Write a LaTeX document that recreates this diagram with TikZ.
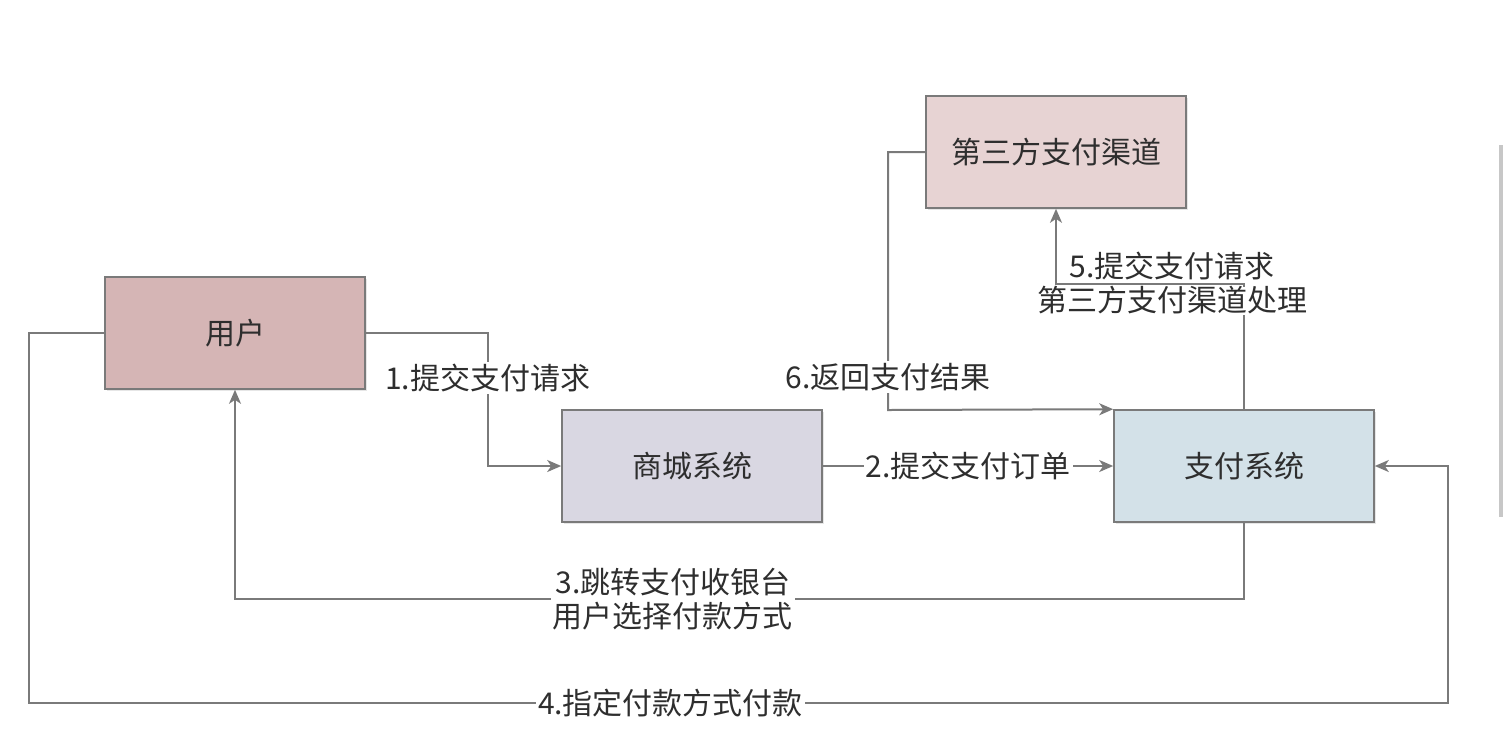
\documentclass[tikz,border=0pt]{standalone}
\usepackage{fontspec}
\usepackage{xcolor}
\usepackage{tikz}
\usetikzlibrary{positioning,arrows.meta,shadows}
\newfontfamily\cjk{Noto Sans CJK SC}

\definecolor{userfill}{HTML}{D5B5B5}
\definecolor{mallfill}{HTML}{D9D7E2}
\definecolor{payfill}{HTML}{D3E1E8}
\definecolor{thirdfill}{HTML}{E7D3D3}
\definecolor{linegray}{HTML}{7A7A7A}
\definecolor{textgray}{HTML}{2E2E2E}

\begin{document}
\begin{tikzpicture}[
		x=0.5pt, y=-0.5pt,
		sysnode/.style={rectangle, draw=linegray, line width=0.8pt, minimum width=130pt, minimum height=56pt,
			font=\cjk\fontsize{15}{17}\selectfont, text=textgray,
			drop shadow={shadow xshift=1pt, shadow yshift=-1pt, opacity=0.2}},
		flow/.style={draw=linegray, line width=1pt, -{Stealth[length=7pt,width=6pt,inset=2pt]}},
		flowlabel/.style={fill=white, inner sep=1pt, text=textgray, align=center,
			font=\cjk\fontsize{15}{17}\selectfont},
		linelabel/.style={fill=white, inner xsep=1pt, inner ysep=0pt, text height=12pt, text depth=2pt,
			text=textgray, font=\cjk\fontsize{15}{17}\selectfont},
	]

		\useasboundingbox (0,0) rectangle (1512,752);

		% nodes
		\node[sysnode, fill=userfill]	(user) 	at (235,333) 	{用户};
		\node[sysnode, fill=mallfill]	(mall) 	at (692,466) 	{商城系统};
		\node[sysnode, fill=payfill]	(pay) 	at (1244,466) 	{支付系统};
		\node[sysnode, fill=thirdfill]	(third) at (1056,152) 	{第三方支付渠道};

		\coordinate (bend4) at (1448,703);
		\coordinate (bend5) at (1244,284);
		\coordinate (bend6) at (888,410);

		% lines
		\draw[flow] (user.east) -- ++(122,0) |- node[flowlabel, pos=0.17] {1.提交支付请求} (mall.west);
		\draw[flow] (mall.east) -- node[flowlabel] {2.提交支付订单} (pay.west);
		\draw[flow] (pay.south) -- ++(0,76) -| node[flowlabel, pos=0.283] {3.跳转支付收银台\\用户选择付款方式} (user.south);
		\draw[flow] (user.west) -- ++(-75,0) |- node[flowlabel, pos=0.726] {4.指定付款方式付款} (bend4) |- (pay.east);
		\draw[flow] (pay.north) -- (bend5) -| (third.south);
		\draw[flow] (third.west) -| node[flowlabel, pos=0.936] {6.返回支付结果} (bend6) -- (pay.north west);

		% label of 5, one node per line
		\node[linelabel] (lab5a) at (1172,267) {5.提交支付请求};
		\node[linelabel] (lab5b) at (1172,301) {第三方支付渠道处理};

		% scroll bar at the right edge
		\fill[black!22] (1499,145) rectangle (1503,517);

	\end{tikzpicture}
\end{document}
